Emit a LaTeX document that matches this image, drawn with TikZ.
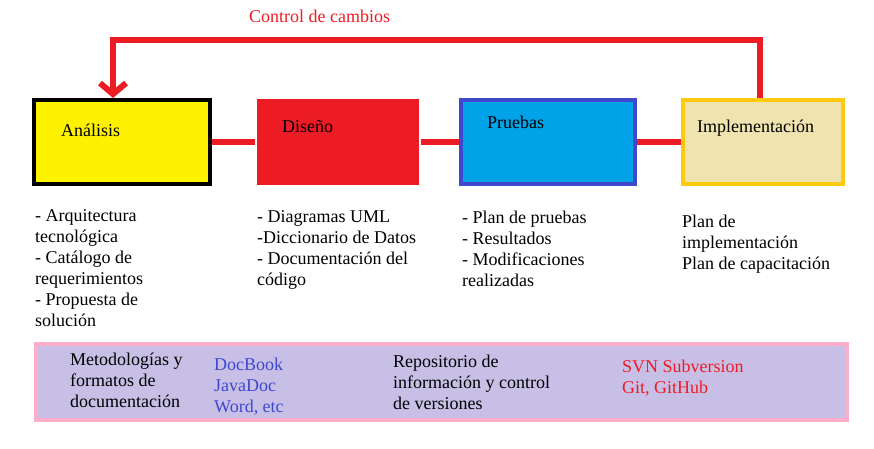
\documentclass[tikz,border=0pt]{standalone}
\usepackage{fontspec}
\setmainfont{Liberation Serif}
\usetikzlibrary{arrows.meta}
\definecolor{rd}{HTML}{ED1C24}
\definecolor{yl}{HTML}{FFF200}
\definecolor{bl}{HTML}{00A2E8}
\definecolor{bb}{HTML}{3F48CC}
\definecolor{cr}{HTML}{EFE4B0}
\definecolor{gd}{HTML}{FFC90E}
\definecolor{lv}{HTML}{C8BFE7}
\definecolor{pk}{HTML}{FFAEC9}
\tikzset{
  box/.style={minimum width=#1, minimum height=84pt, inner sep=0pt, line width=4pt},
  lbl/.style={font=\fontsize{18}{21}\selectfont, anchor=north west, align=left, inner sep=0pt},
  con/.style={rd, line width=6pt}
}
\begin{document}
\begin{tikzpicture}[x=1pt,y=-1pt]
\useasboundingbox (0,0) rectangle (874,449);
\fill[white] (0,0) rectangle (874,449);
\node[box=176pt, draw=black, fill=yl] (a) at (122,142) {};
\node[box=162pt, fill=rd, minimum height=86pt] (d) at (338,142) {};
\node[box=174pt, draw=bb, fill=bl] (p) at (548,142) {};
\node[box=160pt, draw=gd, fill=cr] (i) at (763,142) {};
\node[lbl] at (61,124) {Análisis};
\node[lbl] at (282,120) {Diseño};
\node[lbl] at (487,116) {Pruebas};
\node[lbl] at (697,120) {Implementación};
\draw[con] (a.east) -- (d.west);
\draw[con] (d.east) -- (p.west);
\draw[con] (p.east) -- (i.west);
\coordinate (r) at (760,40);
\coordinate (l) at (113,40);
\draw[con, -{Straight Barb[length=11pt,width=26pt]}] (i.north -| r) -- (r) -- (l) -- (l |- a.north);
\node[lbl, text=rd] (cc) at (249,10) {Control de cambios};
\node[lbl] (la) at (35,209) {- Arquitectura\\tecnológica\\- Catálogo de\\requerimientos\\- Propuesta de\\solución};
\node[lbl] (ld) at (257,210) {- Diagramas UML\\-Diccionario de Datos\\- Documentación del\\código};
\node[lbl] (lp) at (462,211) {- Plan de pruebas\\- Resultados\\- Modificaciones\\realizadas};
\node[lbl] (li) at (682,215) {Plan de\\implementación\\Plan de capacitación};
\node[draw=pk, fill=lv, line width=4pt, minimum width=811pt, minimum height=76pt, inner sep=0pt] (b) at (441.5,382) {};
\node[lbl] (m) at (70,353) {Metodologías y\\formatos de\\documentación};
\node[lbl, text=bb] (db) at (214,358) {DocBook\\JavaDoc\\Word, etc};
\node[lbl] (rp) at (393,355) {Repositorio de\\información y control\\de versiones};
\node[lbl, text=rd] (sv) at (622,360) {SVN Subversion\\Git, GitHub};
\end{tikzpicture}
\end{document}
